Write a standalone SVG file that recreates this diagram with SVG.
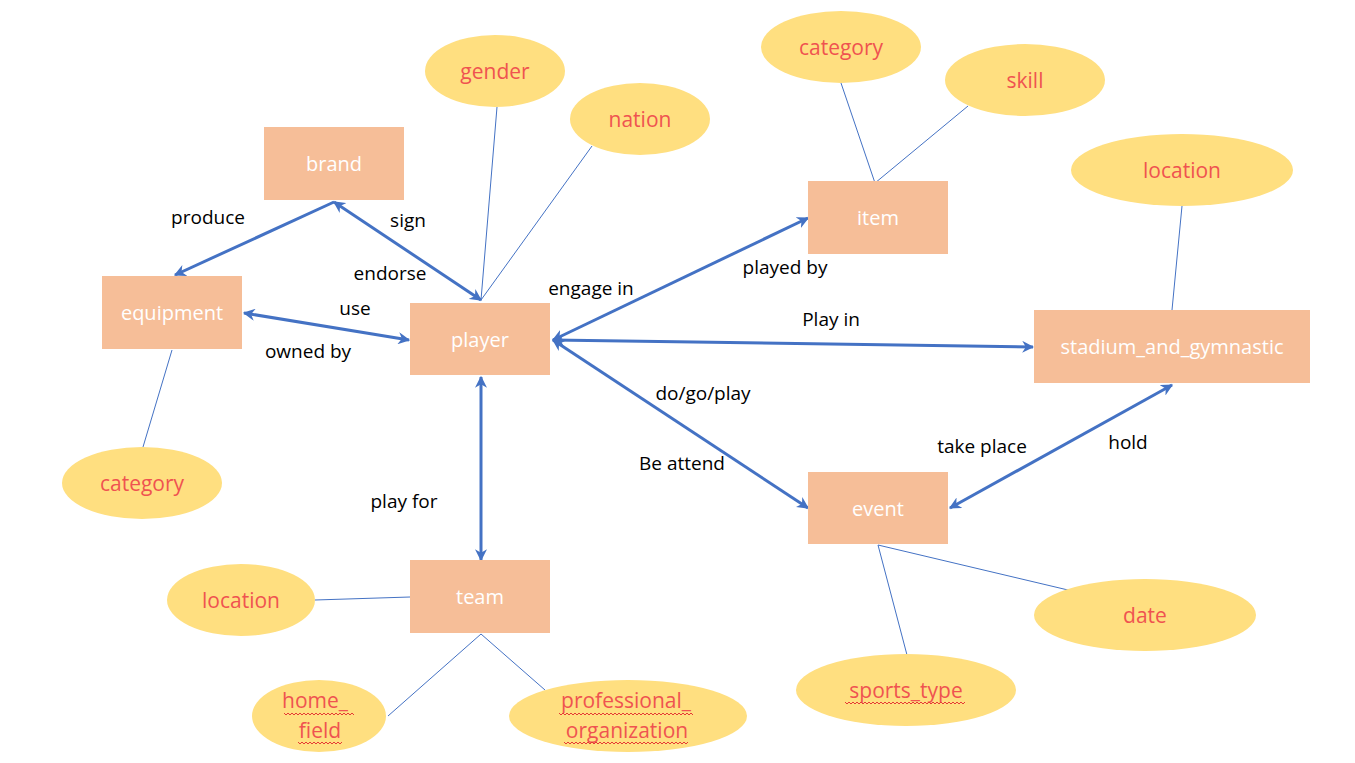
<svg xmlns="http://www.w3.org/2000/svg" width="1355" height="763" viewBox="0 0 1355 763">
<style>
.n{fill:#f6be98}
.nt{fill:#fff;font-family:"Open Sans","Liberation Sans",sans-serif;font-size:20px;text-anchor:middle}
.a{fill:#ffdf80}
.at{fill:#ef5350;font-family:"Open Sans","Liberation Sans",sans-serif;font-size:21px;text-anchor:middle}
.l{fill:#000;font-family:"Open Sans","Liberation Sans",sans-serif;font-size:19px;text-anchor:middle}
.c{stroke:#4472c4;stroke-width:3;fill:none}
.t{stroke:#4472c4;stroke-width:1;fill:none}
.w{stroke:#e53935;stroke-width:1;fill:none}
</style>
<defs>
<marker id="ah" viewBox="0 0 10 10" refX="9" refY="5" markerWidth="4" markerHeight="4" orient="auto-start-reverse"><path d="M0,0 L10,5 L0,10 L3,5 z" fill="#4472c4"/></marker>
</defs>
<rect width="1355" height="763" fill="#fff"/>
<g id="connectors">
<line class="c" x1="334" y1="202" x2="175" y2="275" marker-end="url(#ah)"/>
<line class="c" x1="334" y1="202" x2="481" y2="300" marker-start="url(#ah)" marker-end="url(#ah)"/>
<line class="c" x1="244" y1="313" x2="409" y2="340" marker-start="url(#ah)" marker-end="url(#ah)"/>
<line class="c" x1="553" y1="340" x2="808" y2="218" marker-start="url(#ah)" marker-end="url(#ah)"/>
<line class="c" x1="553" y1="340" x2="1033" y2="347" marker-start="url(#ah)" marker-end="url(#ah)"/>
<line class="c" x1="553" y1="340" x2="808" y2="508" marker-start="url(#ah)" marker-end="url(#ah)"/>
<line class="c" x1="950" y1="508" x2="1172" y2="385" marker-start="url(#ah)" marker-end="url(#ah)"/>
<line class="c" x1="481" y1="377" x2="481" y2="560" marker-start="url(#ah)" marker-end="url(#ah)"/>
<line class="t" x1="497" y1="107" x2="481" y2="300"/>
<line class="t" x1="592" y1="146" x2="481" y2="300"/>
<line class="t" x1="841" y1="83" x2="875" y2="183"/>
<line class="t" x1="968" y1="106" x2="875" y2="183"/>
<line class="t" x1="1182" y1="206" x2="1172" y2="310"/>
<line class="t" x1="172" y1="350" x2="143" y2="447"/>
<line class="t" x1="315" y1="600" x2="410" y2="597"/>
<line class="t" x1="481" y1="634" x2="388" y2="716"/>
<line class="t" x1="481" y1="634" x2="545" y2="690"/>
<line class="t" x1="878" y1="545" x2="907" y2="655"/>
<line class="t" x1="878" y1="545" x2="1068" y2="590"/>
<g class="l">
<text x="208" y="224">produce</text><text x="408" y="227">sign</text><text x="390" y="280">endorse</text>
<text x="355" y="315">use</text><text x="308" y="358">owned by</text><text x="591" y="295">engage in</text>
<text x="785" y="274">played by</text><text x="831" y="326">Play in</text><text x="703" y="400">do/go/play</text>
<text x="682" y="470">Be attend</text><text x="982" y="453">take place</text><text x="1128" y="449">hold</text>
<text x="404" y="508">play for</text>
</g>
</g>
<g id="brand"><rect class="n" x="264" y="127" width="140" height="73"/><text class="nt" x="334" y="171">brand</text></g>
<g id="equipment"><rect class="n" x="102" y="276" width="140" height="73"/><text class="nt" x="172" y="320">equipment</text></g>
<g id="player"><rect class="n" x="410" y="303" width="140" height="72"/><text class="nt" x="480" y="347">player</text></g>
<g id="item"><rect class="n" x="808" y="181" width="140" height="73"/><text class="nt" x="878" y="225">item</text></g>
<g id="stadium"><rect class="n" x="1034" y="310" width="276" height="73"/><text class="nt" x="1172" y="354">stadium_and_gymnastic</text></g>
<g id="event"><rect class="n" x="808" y="472" width="140" height="72"/><text class="nt" x="878" y="516">event</text></g>
<g id="team"><rect class="n" x="410" y="560" width="140" height="73"/><text class="nt" x="480" y="604">team</text></g>
<g id="gender"><ellipse class="a" cx="495" cy="71" rx="70" ry="36"/><text class="at" x="495" y="79">gender</text></g>
<g id="nation"><ellipse class="a" cx="640" cy="119" rx="70" ry="36"/><text class="at" x="640" y="127">nation</text></g>
<g id="item-category"><ellipse class="a" cx="841" cy="47" rx="80" ry="36"/><text class="at" x="841" y="55">category</text></g>
<g id="skill"><ellipse class="a" cx="1025" cy="80" rx="80" ry="36"/><text class="at" x="1025" y="88">skill</text></g>
<g id="stadium-location"><ellipse class="a" cx="1182" cy="170" rx="111" ry="36"/><text class="at" x="1182" y="178">location</text></g>
<g id="equipment-category"><ellipse class="a" cx="142" cy="483" rx="80" ry="36"/><text class="at" x="142" y="491">category</text></g>
<g id="team-location"><ellipse class="a" cx="241" cy="600" rx="74" ry="36"/><text class="at" x="241" y="608">location</text></g>
<g id="home-field"><ellipse class="a" cx="319" cy="716" rx="67" ry="36"/><text class="at" x="315" y="708">home_</text><text class="at" x="320" y="738">field</text>
<path class="w" d="M284,713 l2,2 l2,-2 l2,2 l2,-2 l2,2 l2,-2 l2,2 l2,-2 l2,2 l2,-2 l2,2 l2,-2 l2,2 l2,-2 l2,2 l2,-2 l2,2 l2,-2 l2,2 l2,-2 l2,2 l2,-2 l2,2 l2,-2 l2,2 l2,-2 l2,2 l2,-2 l2,2 l2,-2 l2,2 l2,-2 l2,2 l2,-2 l2,2"/>
<path class="w" d="M298,742 l2,2 l2,-2 l2,2 l2,-2 l2,2 l2,-2 l2,2 l2,-2 l2,2 l2,-2 l2,2 l2,-2 l2,2 l2,-2 l2,2 l2,-2 l2,2 l2,-2 l2,2 l2,-2 l2,2 l2,-2"/></g>
<g id="professional-organization"><ellipse class="a" cx="628" cy="716" rx="119" ry="36"/><text class="at" x="626" y="708">professional_</text><text class="at" x="627" y="738">organization</text>
<path class="w" d="M559,713 l2,2 l2,-2 l2,2 l2,-2 l2,2 l2,-2 l2,2 l2,-2 l2,2 l2,-2 l2,2 l2,-2 l2,2 l2,-2 l2,2 l2,-2 l2,2 l2,-2 l2,2 l2,-2 l2,2 l2,-2 l2,2 l2,-2 l2,2 l2,-2 l2,2 l2,-2 l2,2 l2,-2 l2,2 l2,-2 l2,2 l2,-2 l2,2 l2,-2 l2,2 l2,-2 l2,2 l2,-2 l2,2 l2,-2 l2,2 l2,-2 l2,2 l2,-2 l2,2 l2,-2 l2,2 l2,-2 l2,2 l2,-2 l2,2 l2,-2 l2,2 l2,-2 l2,2 l2,-2 l2,2 l2,-2 l2,2 l2,-2 l2,2 l2,-2 l2,2 l2,-2 l2,2"/>
<path class="w" d="M564,742 l2,2 l2,-2 l2,2 l2,-2 l2,2 l2,-2 l2,2 l2,-2 l2,2 l2,-2 l2,2 l2,-2 l2,2 l2,-2 l2,2 l2,-2 l2,2 l2,-2 l2,2 l2,-2 l2,2 l2,-2 l2,2 l2,-2 l2,2 l2,-2 l2,2 l2,-2 l2,2 l2,-2 l2,2 l2,-2 l2,2 l2,-2 l2,2 l2,-2 l2,2 l2,-2 l2,2 l2,-2 l2,2 l2,-2 l2,2 l2,-2 l2,2 l2,-2 l2,2 l2,-2 l2,2 l2,-2 l2,2 l2,-2 l2,2 l2,-2 l2,2 l2,-2 l2,2 l2,-2 l2,2 l2,-2 l2,2 l2,-2"/></g>
<g id="sports-type"><ellipse class="a" cx="906" cy="690" rx="110" ry="36"/><text class="at" x="906" y="698">sports_type</text>
<path class="w" d="M845,702 l2,2 l2,-2 l2,2 l2,-2 l2,2 l2,-2 l2,2 l2,-2 l2,2 l2,-2 l2,2 l2,-2 l2,2 l2,-2 l2,2 l2,-2 l2,2 l2,-2 l2,2 l2,-2 l2,2 l2,-2 l2,2 l2,-2 l2,2 l2,-2 l2,2 l2,-2 l2,2 l2,-2 l2,2 l2,-2 l2,2 l2,-2 l2,2 l2,-2 l2,2 l2,-2 l2,2 l2,-2 l2,2 l2,-2 l2,2 l2,-2 l2,2 l2,-2 l2,2 l2,-2 l2,2 l2,-2 l2,2 l2,-2 l2,2 l2,-2 l2,2 l2,-2 l2,2 l2,-2 l2,2 l2,-2"/></g>
<g id="date"><ellipse class="a" cx="1145" cy="615" rx="111" ry="36"/><text class="at" x="1145" y="623">date</text></g>
</svg>
